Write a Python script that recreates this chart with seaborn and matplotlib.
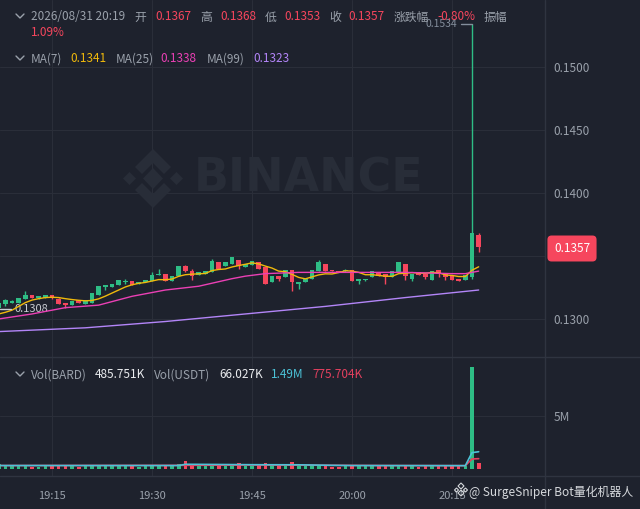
import pandas as pd
import seaborn as sns
import matplotlib.pyplot as plt
from matplotlib.patches import Polygon
from matplotlib.lines import Line2D

# ---- data (1m candles, minutes after 19:00) ----
minutes = list(range(7, 80))
opens = [0.1309, 0.1312, 0.1313, 0.1313, 0.1316, 0.1319, 0.1317, 0.1317, 0.1319, 0.1316,
         0.1313, 0.1311, 0.1315, 0.1312, 0.1313, 0.1319, 0.1325, 0.1325, 0.1327, 0.1329,
         0.1330, 0.1328, 0.1329, 0.1330, 0.1335, 0.1336, 0.1330, 0.1334, 0.1342, 0.1338,
         0.1335, 0.1336, 0.1337, 0.1345, 0.1342, 0.1344, 0.1347, 0.1341, 0.1343, 0.1345,
         0.1341, 0.1329, 0.1334, 0.1333, 0.1339, 0.1328, 0.1329, 0.1332, 0.1338, 0.1344,
         0.1339, 0.1338, 0.1338, 0.1339, 0.1330, 0.1331, 0.1333, 0.1337, 0.1336, 0.1333,
         0.1337, 0.1344, 0.1332, 0.1337, 0.1336, 0.1331, 0.1339, 0.1336, 0.1334, 0.1332,
         0.1331, 0.1333, 0.1367]
highs = [0.1314, 0.1316, 0.1315, 0.1317, 0.1322, 0.1319, 0.1318, 0.1319, 0.1319, 0.1317,
         0.1313, 0.1314, 0.1315, 0.1315, 0.1321, 0.1326, 0.1327, 0.1328, 0.1331, 0.1332,
         0.1330, 0.1329, 0.1331, 0.1337, 0.1340, 0.1336, 0.1334, 0.1342, 0.1343, 0.1340,
         0.1337, 0.1338, 0.1348, 0.1345, 0.1345, 0.1349, 0.1347, 0.1344, 0.1346, 0.1345,
         0.1341, 0.1334, 0.1334, 0.1339, 0.1339, 0.1329, 0.1332, 0.1339, 0.1347, 0.1344,
         0.1339, 0.1338, 0.1340, 0.1339, 0.1332, 0.1332, 0.1338, 0.1337, 0.1336, 0.1338,
         0.1345, 0.1344, 0.1336, 0.1337, 0.1336, 0.1338, 0.1339, 0.1336, 0.1334, 0.1332,
         0.1335, 0.1534, 0.1368]
lows = [0.1308, 0.1310, 0.1313, 0.1313, 0.1316, 0.1317, 0.1316, 0.1317, 0.1316, 0.1312,
        0.1309, 0.1311, 0.1313, 0.1312, 0.1313, 0.1319, 0.1323, 0.1325, 0.1327, 0.1328,
        0.1327, 0.1328, 0.1329, 0.1330, 0.1335, 0.1330, 0.1330, 0.1334, 0.1337, 0.1331,
        0.1335, 0.1336, 0.1337, 0.1340, 0.1342, 0.1344, 0.1340, 0.1341, 0.1343, 0.1340,
        0.1328, 0.1329, 0.1330, 0.1333, 0.1322, 0.1324, 0.1329, 0.1332, 0.1338, 0.1338,
        0.1338, 0.1337, 0.1337, 0.1330, 0.1328, 0.1330, 0.1333, 0.1334, 0.1328, 0.1333,
        0.1337, 0.1331, 0.1330, 0.1335, 0.1332, 0.1331, 0.1333, 0.1331, 0.1331, 0.1330,
        0.1331, 0.1332, 0.1353]
closes = [0.1313, 0.1315, 0.1314, 0.1317, 0.1319, 0.1317, 0.1318, 0.1319, 0.1317, 0.1312,
          0.1311, 0.1314, 0.1313, 0.1315, 0.1321, 0.1326, 0.1327, 0.1328, 0.1331, 0.1330,
          0.1327, 0.1329, 0.1331, 0.1335, 0.1336, 0.1330, 0.1334, 0.1342, 0.1338, 0.1334,
          0.1337, 0.1338, 0.1346, 0.1340, 0.1345, 0.1349, 0.1342, 0.1344, 0.1346, 0.1340,
          0.1328, 0.1334, 0.1332, 0.1339, 0.1329, 0.1329, 0.1332, 0.1339, 0.1345, 0.1338,
          0.1338, 0.1337, 0.1339, 0.1330, 0.1332, 0.1332, 0.1338, 0.1334, 0.1333, 0.1338,
          0.1345, 0.1334, 0.1336, 0.1335, 0.1333, 0.1338, 0.1336, 0.1333, 0.1331, 0.1330,
          0.1335, 0.1368, 0.1357]
# volume in BARD (thousands)
volumes_k = [380, 250, 200, 220, 300, 180, 150, 200, 220, 300,
             260, 200, 180, 210, 320, 350, 240, 220, 260, 200,
             230, 180, 190, 280, 300, 320, 260, 380, 720, 420,
             260, 240, 380, 400, 260, 300, 480, 250, 260, 300,
             490, 320, 240, 300, 620, 300, 220, 280, 350, 300,
             180, 150, 200, 330, 260, 200, 240, 210, 260, 220,
             300, 320, 230, 180, 200, 240, 220, 210, 230, 200,
             260, 9640, 486]

# moving averages
ma7_head = [0.1304, 0.13053, 0.1307, 0.1310, 0.1313, 0.1315]
ma25_t = [7, 12, 17, 22, 27, 32, 37, 42, 44, 47, 52, 60, 68, 75, 77, 78, 79]
ma25_v = [0.1300, 0.1304, 0.1309, 0.1311, 0.1318, 0.1323, 0.1326, 0.1332, 0.1334,
          0.1336, 0.1337, 0.1337, 0.1337, 0.1336, 0.1336, 0.1337, 0.1338]
ma99_t = [7, 20, 32, 44, 56, 68, 79]
ma99_v = [0.1290, 0.1293, 0.1298, 0.1304, 0.1310, 0.1317, 0.1323]
vma5_t = [7, 34, 35, 40, 45, 52, 57, 60, 77, 78, 79]
vma5_k = [280, 280, 400, 380, 360, 350, 300, 280, 270, 1500, 1590]
vma10_t = [7, 35, 45, 55, 65, 77, 78, 79]
vma10_k = [280, 300, 330, 310, 280, 270, 900, 930]

price_ticks = [0.1300, 0.1350, 0.1400, 0.1450, 0.1500]
time_ticks = [15, 30, 45, 60, 75]
time_labels = ['19:15', '19:30', '19:45', '20:00', '20:15']

# ---- style ----
BG = '#1e222d'
GRID = '#2a2e39'
SEP = '#2f3440'
TXT = '#9aa1ab'
UP = '#2ebd85'
DOWN = '#f6465d'
C_MA7 = '#f0b90b'
C_MA25 = '#eb40b5'
C_MA99 = '#b385f8'
C_VMA5 = '#4cc3d8'
C_VMA10 = '#e4405f'

sns.set_theme(style='dark', rc={'axes.facecolor': BG, 'figure.facecolor': BG})
plt.rcParams['font.family'] = ['Noto Sans CJK SC', 'DejaVu Sans']

W, H = 640, 509
fig = plt.figure(figsize=(6.4, 5.09), dpi=100)


def fx(px):
    return px / W


def fy(py):
    return 1 - py / H


ax = fig.add_axes([0, fy(357), fx(545), 357 / H])
axv = fig.add_axes([0, fy(476), fx(545), 119 / H], sharex=ax)

df = pd.DataFrame({'t': minutes, 'open': opens, 'high': highs, 'low': lows,
                   'close': closes, 'vol': [v * 1000 for v in volumes_k]})
df['up'] = df['close'] >= df['open']
df['color'] = df['up'].map({True: UP, False: DOWN})
ma7 = df['close'].rolling(7).mean()
ma7.iloc[:6] = ma7_head
df['ma7'] = ma7

for a in (ax, axv):
    a.set_facecolor(BG)
    for s in a.spines.values():
        s.set_visible(False)
    a.set_xlim(7.2, 88.95)
    a.set_xticks(time_ticks)
    a.grid(True, color=GRID, lw=0.8)
    a.set_axisbelow(True)

# candles
ax.vlines(df['t'], df['low'], df['high'], colors=df['color'], lw=1, zorder=3)
body_lo = df[['open', 'close']].min(axis=1)
body_h = (df['close'] - df['open']).abs().clip(lower=0.00003)
ax.bar(df['t'], body_h, bottom=body_lo, width=0.7, color=df['color'], lw=0, zorder=3)

sns.lineplot(data=df, x='t', y='ma7', ax=ax, color=C_MA7, lw=1, zorder=4)
sns.lineplot(x=ma25_t, y=ma25_v, ax=ax, color=C_MA25, lw=1, zorder=4)
sns.lineplot(x=ma99_t, y=ma99_v, ax=ax, color=C_MA99, lw=1, zorder=4)

ax.set_ylim(0.126984, 0.155317)
ax.set_yticks(price_ticks)
ax.set_yticklabels([f'{p:.4f}' for p in price_ticks])
ax.yaxis.tick_right()
ax.tick_params(axis='y', length=0, pad=6, labelsize=8.5, labelcolor=TXT)
ax.tick_params(axis='x', length=0, labelbottom=False)
ax.set_xlabel('')
ax.set_ylabel('')

# high / low markers
ax.plot([76.3, 78.0], [0.1534, 0.1534], color='#848e9c', lw=1, zorder=5)
ax.text(75.8, 0.1534, '0.1534', ha='right', va='center', fontsize=7.5, color='#848e9c')
ax.plot([7.2, 8.9], [0.1308, 0.1308], color='#c8ccd2', lw=1, zorder=5)
ax.text(9.3, 0.1308, '0.1308', ha='left', va='center', fontsize=8, color='#c8ccd2')

# volume panel
axv.bar(df['t'], df['vol'], width=0.55, color=df['color'], lw=0, zorder=3)
sns.lineplot(x=vma10_t, y=[v * 1000 for v in vma10_k], ax=axv, color=C_VMA10, lw=1.2, zorder=4)
sns.lineplot(x=vma5_t, y=[v * 1000 for v in vma5_k], ax=axv, color=C_VMA5, lw=1.2, zorder=4)
axv.set_ylim(-0.71e6, 10.558e6)
axv.set_yticks([5e6])
axv.set_yticklabels(['5M'])
axv.yaxis.tick_right()
axv.tick_params(axis='y', length=0, pad=6, labelsize=8.5, labelcolor=TXT)
axv.set_xticklabels(time_labels)
axv.tick_params(axis='x', length=0, pad=11, labelsize=8, labelcolor=TXT)
axv.set_xlabel('')
axv.set_ylabel('')

# panel separators
fig.add_artist(Line2D([0, 1], [fy(357), fy(357)], color=SEP, lw=1))
fig.add_artist(Line2D([0, 1], [fy(476), fy(476)], color=SEP, lw=1))
fig.add_artist(Line2D([fx(545), fx(545)], [0, 1], color=SEP, lw=1))

# last price label
fig.text(fx(572), fy(248.5), '0.1357', ha='center', va='center', fontsize=8.5, color='white',
         zorder=20, bbox=dict(boxstyle='round,pad=0.55,rounding_size=0.35', fc=DOWN, ec='none'))

# watermark
WM = '#282d38'
fig.text(fx(309), fy(179), 'BINANCE', ha='center', va='center', fontsize=33,
         fontweight='bold', family='DejaVu Sans', color=WM, zorder=1)
logo = [
    [(153, 168), (163, 178.5), (153, 189), (143, 178.5)],
    [(129.5, 172), (136, 178.5), (129.5, 185), (123, 178.5)],
    [(176.5, 172), (183, 178.5), (176.5, 185), (170, 178.5)],
    [(153, 149), (171, 167), (164, 174), (153, 163), (142, 174), (135, 167)],
    [(153, 208), (171, 190), (164, 183), (153, 194), (142, 183), (135, 190)],
]
for pts in logo:
    fig.add_artist(Polygon([(fx(x), fy(y)) for x, y in pts], closed=True, fc=WM, ec='none',
                           transform=fig.transFigure, zorder=1))


def chevron(px, py, color=TXT):
    fig.add_artist(Line2D([fx(px - 4), fx(px), fx(px + 4)], [fy(py - 2), fy(py + 2), fy(py - 2)],
                          color=color, lw=1))


# header rows
RED = DOWN
chevron(20, 16)
hdr = [(31, '2026/08/31 20:19', TXT), (134, '开', TXT), (155, '0.1367', RED),
       (200, '高', TXT), (220, '0.1368', RED), (265, '低', TXT), (284, '0.1353', RED),
       (329, '收', TXT), (348, '0.1357', RED), (394, '涨跌幅', TXT), (437, '-0.80%', RED),
       (484, '振幅', TXT)]
for x, s, c in hdr:
    fig.text(fx(x), fy(17), s, ha='left', va='center', fontsize=8.5, color=c)
fig.text(fx(31), fy(33), '1.09%', ha='left', va='center', fontsize=8.5, color=RED)

chevron(20, 58)
ma_hdr = [(31, 'MA(7)', TXT), (70, '0.1341', C_MA7), (116, 'MA(25)', TXT), (160, '0.1338', C_MA25),
          (207, 'MA(99)', TXT), (253, '0.1323', C_MA99)]
for x, s, c in ma_hdr:
    fig.text(fx(x), fy(59), s, ha='left', va='center', fontsize=8.5, color=c)

chevron(20, 374)
vol_hdr = [(31, 'Vol(BARD)', TXT), (95, '485.751K', '#eaecef'), (154, 'Vol(USDT)', TXT),
           (219, '66.027K', '#eaecef'), (271, '1.49M', C_VMA5), (312, '775.704K', C_VMA10)]
for x, s, c in vol_hdr:
    fig.text(fx(x), fy(375), s, ha='left', va='center', fontsize=8.5, color=c)

# bottom-right source tag
tag = '#d5d8dc'
small = [
    [(461, 483), (464, 486), (461, 489), (458, 486)],
    [(461, 490), (464, 493), (461, 496), (458, 493)],
    [(456.5, 488), (458.5, 490), (456.5, 492), (454.5, 490)],
    [(465.5, 488), (467.5, 490), (465.5, 492), (463.5, 490)],
]
for pts in small:
    fig.add_artist(Polygon([(fx(x), fy(y)) for x, y in pts], closed=True, fc='none', ec=tag,
                           lw=0.8, transform=fig.transFigure, zorder=20))
fig.text(fx(469), fy(492), '@ SurgeSniper Bot量化机器人', ha='left', va='center',
         fontsize=8.6, color=tag, zorder=20)

fig.savefig('out.png', dpi=100, facecolor=BG)
